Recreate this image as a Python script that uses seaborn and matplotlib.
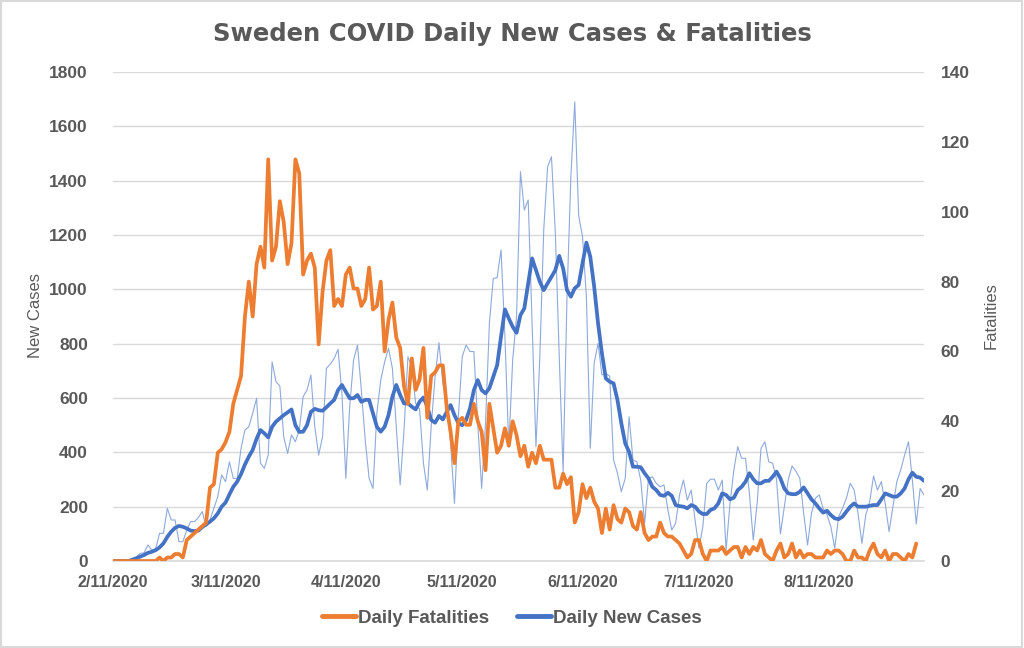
import numpy as np
import pandas as pd
import matplotlib
matplotlib.use("Agg")
import matplotlib.pyplot as plt
import seaborn as sns
from matplotlib.patches import Rectangle
from matplotlib.lines import Line2D

# ---------------- data ----------------
start_date = "2020-02-11"
n_days = 210

daily_cases = [
    0, 0, 0, 0, 1, 5, 15, 28, 30, 59,
    40, 45, 102, 102, 194, 151, 151, 71, 71, 114,
    145, 145, 160, 182, 126, 151, 194, 237, 317, 292,
    365, 304, 304, 415, 482, 494, 544, 599, 360, 341,
    390, 733, 660, 644, 457, 396, 464, 439, 482, 605,
    629, 685, 494, 390, 457, 709, 725, 746, 779, 617,
    304, 568, 740, 795, 629, 445, 304, 267, 544, 666,
    733, 783, 709, 494, 280, 482, 752, 715, 580, 560,
    360, 261, 494, 678, 804, 654, 580, 433, 212, 531,
    752, 795, 771, 771, 507, 267, 507, 875, 1040, 1043,
    1145, 826, 420, 740, 899, 1433, 1292, 1329, 875, 421,
    752, 1218, 1451, 1488, 1206, 752, 329, 973, 1414, 1690,
    1273, 1193, 973, 415, 728, 801, 685, 691, 680, 372,
    323, 255, 304, 531, 372, 365, 298, 139, 304, 310,
    286, 273, 280, 188, 114, 139, 243, 298, 224, 261,
    151, 47, 126, 286, 301, 301, 261, 298, 40, 212,
    335, 421, 378, 378, 249, 77, 212, 415, 439, 365,
    360, 300, 100, 200, 298, 350, 330, 304, 175, 59,
    175, 231, 243, 194, 170, 126, 47, 163, 194, 231,
    286, 261, 175, 65, 170, 218, 313, 261, 292, 212,
    108, 200, 292, 335, 390, 439, 298, 136, 267, 243,
]

avg_cases = [
    0, 0, 0, 0, 0, 5, 10, 16, 22, 30,
    34, 40, 50, 65, 89, 108, 122, 129, 126, 120,
    112, 110, 112, 125, 135, 145, 157, 175, 200, 215,
    245, 273, 292, 320, 355, 384, 409, 450, 482, 470,
    455, 494, 513, 525, 537, 547, 558, 500, 475, 476,
    500, 549, 560, 555, 553, 566, 580, 593, 629, 648,
    623, 599, 599, 611, 586, 593, 593, 544, 494, 476,
    494, 537, 605, 648, 611, 580, 580, 568, 558, 586,
    602, 568, 519, 509, 534, 521, 549, 574, 537, 507,
    500, 519, 562, 629, 666, 629, 617, 636, 678, 721,
    826, 926, 893, 862, 840, 905, 930, 1022, 1114, 1071,
    1028, 997, 1022, 1046, 1071, 1123, 1077, 997, 973, 1004,
    1016, 1096, 1172, 1120, 1010, 875, 764, 672, 660, 654,
    593, 507, 433, 402, 347, 347, 345, 323, 304, 273,
    261, 243, 240, 251, 240, 206, 202, 200, 194, 206,
    200, 182, 173, 173, 188, 194, 212, 249, 243, 227,
    233, 261, 273, 292, 323, 301, 286, 286, 295, 295,
    310, 329, 304, 267, 249, 246, 246, 255, 271, 249,
    227, 212, 194, 178, 185, 169, 157, 154, 163, 182,
    200, 212, 200, 200, 200, 203, 206, 206, 227, 249,
    243, 237, 237, 249, 267, 301, 325, 310, 307, 295,
]

daily_deaths = [
    0, 0, 0, 0, 0, 0, 0, 0, 0, 0,
    0, 0, 1, 0, 1, 1, 2, 2, 1, 6,
    7, 8, 9, 10, 11, 21, 22, 31, 32, 34,
    37, 45, 49, 53, 70, 80, 70, 85, 90, 84,
    115, 86, 90, 103, 97, 85, 91, 115, 111, 82,
    86, 88, 84, 62, 77, 86, 89, 73, 75, 73,
    82, 84, 78, 78, 73, 75, 84, 72, 73, 80,
    60, 69, 74, 64, 61, 50, 45, 58, 49, 52,
    61, 41, 53, 54, 56, 56, 44, 37, 28, 40,
    41, 39, 39, 45, 40, 37, 26, 45, 38, 31,
    33, 38, 33, 40, 36, 30, 33, 27, 31, 28,
    33, 29, 29, 29, 21, 21, 25, 22, 24, 11,
    14, 22, 18, 21, 17, 15, 8, 15, 9, 16,
    12, 11, 15, 14, 10, 9, 14, 8, 6, 7,
    7, 11, 8, 7, 7, 6, 5, 3, 1, 2,
    6, 6, 2, 0, 3, 3, 3, 4, 2, 3,
    4, 4, 1, 4, 2, 4, 3, 6, 2, 1,
    0, 3, 5, 1, 2, 5, 1, 3, 1, 2,
    2, 1, 1, 1, 3, 2, 3, 3, 2, 0,
    0, 3, 1, 1, 0, 3, 5, 2, 1, 3,
    0, 2, 2, 1, 0, 2, 1, 5, np.nan, np.nan,
]

x_tick_dates = ["2020-02-11", "2020-03-11", "2020-04-11", "2020-05-11",
                "2020-06-11", "2020-07-11", "2020-08-11"]
left_ticks = [0, 200, 400, 600, 800, 1000, 1200, 1400, 1600, 1800]
right_ticks = [0, 20, 40, 60, 80, 100, 120, 140]

title_text = "Sweden COVID Daily New Cases & Fatalities"
left_label = "New Cases"
right_label = "Fatalities"
legend_labels = ["Daily Fatalities", "Daily New Cases"]

# ---------------- build frame ----------------
dates = pd.date_range(start_date, periods=n_days, freq="D")
df = pd.DataFrame({
    "date": dates,
    "daily_cases": daily_cases,
    "avg_cases": avg_cases,
    "deaths": daily_deaths,
})

# ---------------- style ----------------
sns.set_theme(style="white")
plt.rcParams["font.family"] = ["Liberation Sans", "DejaVu Sans"]

ORANGE = "#ED7D31"
BLUE = "#4472C4"
THIN_BLUE = "#8EA9DB"
TXT = "#595959"
GRID = "#D9D9D9"

fig = plt.figure(figsize=(10.24, 6.48), dpi=100)
ax = fig.add_axes([113 / 1024, 1 - 561 / 648, (924 - 113) / 1024, (561 - 72) / 648])
ax2 = ax.twinx()
ax2.set_position(ax.get_position())

sns.lineplot(data=df, x="date", y="daily_cases", ax=ax, color=THIN_BLUE,
             linewidth=0.8, legend=False, zorder=2)
sns.lineplot(data=df, x="date", y="avg_cases", ax=ax, color=BLUE,
             linewidth=2.7, legend=False, zorder=3, solid_joinstyle="round")
sns.lineplot(data=df, x="date", y="deaths", ax=ax2, color=ORANGE,
             linewidth=2.7, legend=False, zorder=4, solid_joinstyle="round")

ax.set_ylim(0, 1800)
ax2.set_ylim(0, 140)
ax.set_xlim(dates[0], dates[-1])
ax.set_yticks(left_ticks)
ax2.set_yticks(right_ticks)
xt = pd.to_datetime(x_tick_dates)
ax.set_xticks(xt)
ax.set_xticklabels([f"{d.month}/{d.day}/{d.year}" for d in xt])

for a in (ax, ax2):
    a.set_xlabel("")
    a.set_ylabel("")
    for s in a.spines.values():
        s.set_visible(False)
    a.tick_params(axis="both", length=0, colors=TXT, labelsize=12.5)
    for lbl in a.get_yticklabels() + a.get_xticklabels():
        lbl.set_fontweight("bold")
        lbl.set_color(TXT)

ax.spines["bottom"].set_visible(True)
ax.spines["bottom"].set_color(GRID)
ax.spines["bottom"].set_linewidth(1.2)
ax.grid(axis="y", color=GRID, linewidth=1.0)
ax.grid(axis="x", visible=False)
ax2.grid(False)
ax.set_axisbelow(True)
ax.tick_params(axis="y", pad=18)
ax2.tick_params(axis="y", pad=12)
ax.tick_params(axis="x", pad=10)
for lbl in ax.get_xticklabels():
    lbl.set_fontsize(11.5)

fig.text(0.5, 1 - 34 / 648, title_text, ha="center", va="center",
         fontsize=17.5, fontweight="bold", color=TXT, family="DejaVu Sans")
fig.text(36 / 1024, 1 - 316 / 648, left_label, rotation=90, ha="center",
         va="center", fontsize=12, color=TXT)
fig.text(991 / 1024, 1 - 316 / 648, right_label, rotation=90, ha="center",
         va="center", fontsize=12, color=TXT)

handles = [Line2D([0], [0], color=ORANGE, lw=3.5),
           Line2D([0], [0], color=BLUE, lw=3.5)]
leg = fig.legend(handles, legend_labels, loc="center",
                 bbox_to_anchor=(0.5, 1 - 618 / 648), ncol=2, frameon=False,
                 handlelength=1.8, handletextpad=0.1, columnspacing=1.5,
                 prop={"weight": "bold", "size": 13.5})
for t in leg.get_texts():
    t.set_color(TXT)

fig.patches.append(Rectangle((0.001, 0.001), 0.997, 0.997, transform=fig.transFigure,
                             fill=False, edgecolor=GRID, linewidth=1.5))

fig.savefig("out.png", dpi=100, facecolor="white")
